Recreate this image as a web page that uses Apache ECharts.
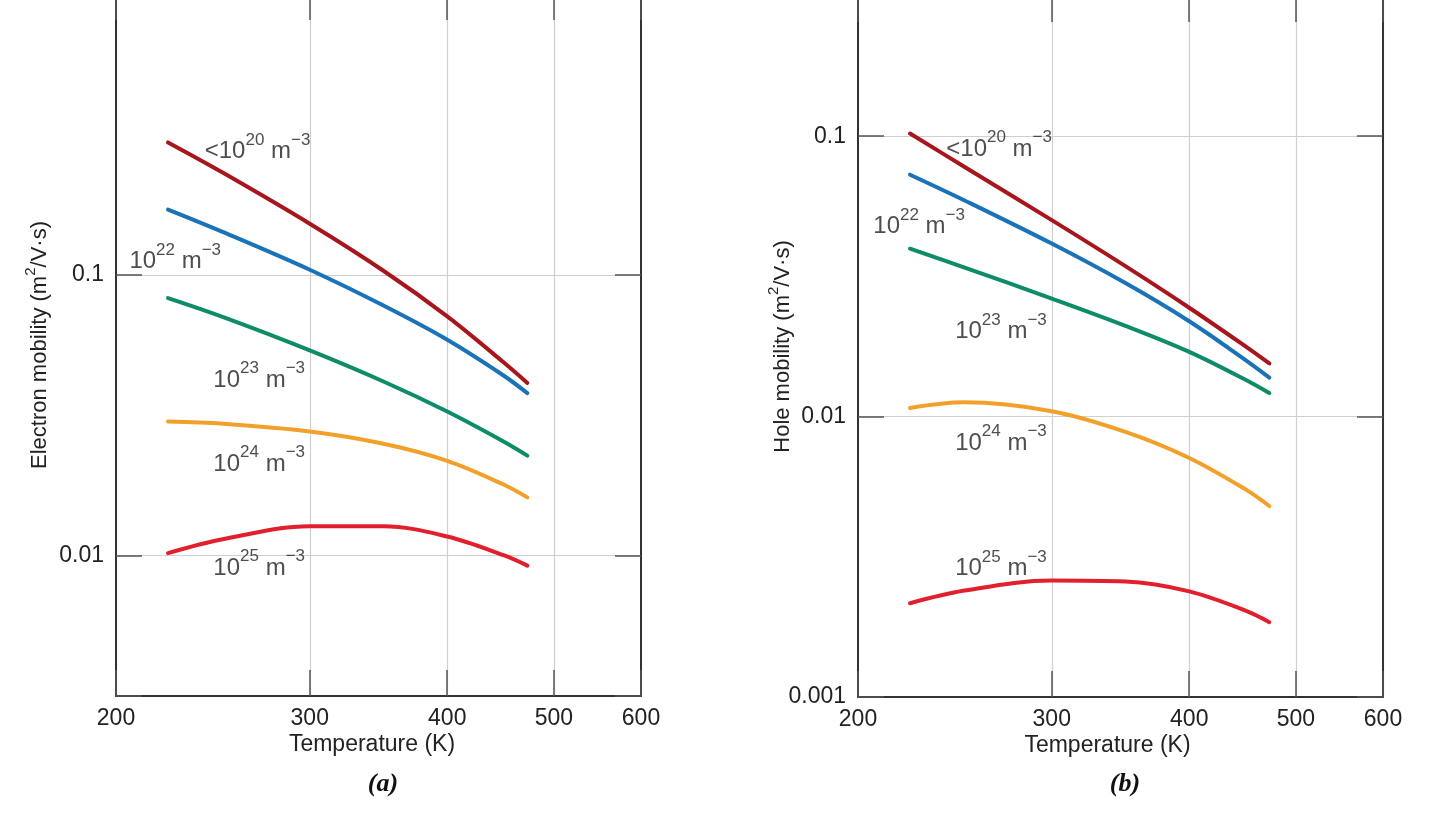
<!DOCTYPE html>
<html>
<head>
<meta charset="utf-8">
<title>Electron and hole mobility vs temperature</title>
<script src="https://cdn.jsdelivr.net/npm/echarts@6/dist/echarts.min.js"></script>
<style>
    html, body { margin: 0; padding: 0; background: #fff; }
    #chart { width: 1440px; height: 813px; }
</style>
</head>
<body>
<div id="chart"></div>
<script>
    // temperatures (K) at which the curves are read
    var temps = [223, 250, 300, 350, 400, 450, 473];

    // (a) electron mobility, m2/V.s
    var e20 = [0.296, 0.2312, 0.152, 0.1034, 0.0711, 0.0488, 0.0412];
    var e22 = [0.1706, 0.1421, 0.1042, 0.0777, 0.0587, 0.0438, 0.0379];
    var e23 = [0.0826, 0.0708, 0.0538, 0.0417, 0.0326, 0.0255, 0.0227];
    var e24 = [0.0300, 0.02948, 0.02766, 0.02502, 0.02175, 0.01791, 0.01612];
    var e25 = [0.0102, 0.01143, 0.01272, 0.01272, 0.01169, 0.01003, 0.00921];

    // (b) hole mobility, m2/V.s
    var h20 = [0.1022, 0.0777, 0.0502, 0.0344, 0.02445, 0.0178, 0.01547];
    var h22 = [0.0729, 0.0590, 0.0414, 0.02993, 0.02187, 0.0159, 0.01377];
    var h23 = [0.0397, 0.0340, 0.02636, 0.02107, 0.01702, 0.01353, 0.01213];
    var h24 = [0.01074, 0.01124, 0.01045, 0.00882, 0.00712, 0.00550, 0.00480];
    var h25 = [0.00216, 0.002396, 0.002601, 0.00258, 0.00238, 0.002032, 0.001849];

    // x tick labels (K)
    var xTicks = [200, 300, 400, 500, 600];

    // curve labels (rich text) and where they sit, in data units
    var curveNames = [
        '{t|<10}{s|20}{t| m}{s|\u22123}',
        '{t|10}{s|22}{t| m}{s|\u22123}',
        '{t|10}{s|23}{t| m}{s|\u22123}',
        '{t|10}{s|24}{t| m}{s|\u22123}',
        '{t|10}{s|25}{t| m}{s|\u22123}'
    ];
    var labelTa = [240.8, 205.7, 245.2, 245.2, 245.2];
    var labelMa = [0.2843, 0.1150, 0.0436, 0.0219, 0.00933];
    var labelTb = [240.6, 206.5, 245.1, 245.1, 245.1];
    var labelMb = [0.0929, 0.0493, 0.0208, 0.00832, 0.00296];

    var colors = ['#a6161c', '#1a72b9', '#0e8c67', '#f3a02b', '#e21f2c'];

    var FONT = 'Liberation Sans, Arial, sans-serif';
    var TEXT = '#222';

    var lg = function (v) { return Math.log10(v); };

    function yLabel(v) {
        var e = Math.log10(v);
        if (Math.abs(e - Math.round(e)) > 1e-6) return '';
        return String(+Math.pow(10, Math.round(e)).toPrecision(1));
    }

    function xAxes(gridIndex, pad) {
        var custom = xTicks.map(lg);
        return [
            {
                type: 'value', gridIndex: gridIndex, position: 'bottom',
                min: lg(200), max: lg(600),
                name: 'Temperature (K)', nameLocation: 'middle', nameGap: 37,
                nameMoveOverlap: false,
                nameTextStyle: {fontSize: 23, color: TEXT, fontFamily: FONT, padding: [0, pad, 0, 0]},
                axisLine: {show: true, onZero: false, lineStyle: {color: '#333', width: 2}},
                axisTick: {show: true, inside: true, length: 26, customValues: custom,
                    lineStyle: {color: '#555', width: 1.5}},
                axisLabel: {show: true, customValues: custom, margin: 11, fontSize: 23,
                    color: TEXT, fontFamily: FONT,
                    formatter: function (v) { return String(Math.round(Math.pow(10, v))); }},
                splitLine: {show: true, lineStyle: {color: '#cfcfcf', width: 1.2}}
            },
            {
                type: 'value', gridIndex: gridIndex, position: 'top',
                min: lg(200), max: lg(600),
                axisLine: {show: true, onZero: false, lineStyle: {color: '#333', width: 2}},
                axisTick: {show: true, inside: true, length: 26, customValues: custom,
                    lineStyle: {color: '#555', width: 1.5}},
                axisLabel: {show: false},
                splitLine: {show: false}
            }
        ];
    }

    function yAxes(gridIndex, min, max, name, gap) {
        return [
            {
                type: 'log', logBase: 10, gridIndex: gridIndex, position: 'left',
                min: min, max: max,
                name: name, nameLocation: 'middle', nameGap: gap,
                nameMoveOverlap: false,
                nameTextStyle: {
                    color: TEXT, fontFamily: FONT,
                    rich: {
                        n: {fontSize: 22, color: TEXT, fontFamily: FONT, lineHeight: 28, verticalAlign: 'bottom'},
                        s: {fontSize: 15, color: TEXT, fontFamily: FONT, lineHeight: 13, verticalAlign: 'top'}
                    }
                },
                axisLine: {show: true, onZero: false, lineStyle: {color: '#333', width: 2}},
                axisTick: {show: true, inside: true, length: 26, lineStyle: {color: '#555', width: 1.5}},
                axisLabel: {show: true, margin: 12, fontSize: 23, color: TEXT, fontFamily: FONT,
                    showMaxLabel: true, formatter: yLabel},
                splitLine: {show: true, lineStyle: {color: '#cfcfcf', width: 1.2}},
                minorTick: {show: false}
            },
            {
                type: 'log', logBase: 10, gridIndex: gridIndex, position: 'right',
                min: min, max: max,
                axisLine: {show: true, onZero: false, lineStyle: {color: '#333', width: 2}},
                axisTick: {show: true, inside: true, length: 26, lineStyle: {color: '#555', width: 1.5}},
                axisLabel: {show: false},
                splitLine: {show: false}
            }
        ];
    }

    function curve(vals, color, xi, yi) {
        return {
            type: 'line',
            xAxisIndex: xi, yAxisIndex: yi,
            data: temps.map(function (t, i) { return [lg(t), vals[i]]; }),
            smooth: 0.35,
            showSymbol: false,
            symbol: 'none',
            lineStyle: {color: color, width: 4, cap: 'round', join: 'round'},
            z: 3
        };
    }

    function labels(ts, ms, xi, yi) {
        return {
            type: 'scatter',
            xAxisIndex: xi, yAxisIndex: yi,
            symbolSize: 0,
            silent: true,
            data: ts.map(function (t, i) { return {name: curveNames[i], value: [lg(t), ms[i]]}; }),
            label: {
                show: true, position: 'right', distance: 0,
                formatter: function (p) { return p.name; },
                rich: {
                    t: {fontSize: 24, color: TEXT, fontFamily: FONT, lineHeight: 32, verticalAlign: 'bottom'},
                    s: {fontSize: 17, color: TEXT, fontFamily: FONT, lineHeight: 15, verticalAlign: 'top'}
                }
            },
            z: 4
        };
    }

    var chart = echarts.init(document.getElementById('chart'));

    var series = [];
    [e20, e22, e23, e24, e25].forEach(function (d, i) { series.push(curve(d, colors[i], 0, 0)); });
    [h20, h22, h23, h24, h25].forEach(function (d, i) { series.push(curve(d, colors[i], 2, 2)); });
    series.push(labels(labelTa, labelMa, 0, 0));
    series.push(labels(labelTb, labelMb, 2, 2));

    chart.setOption({
        animation: false,
        backgroundColor: '#fff',
        title: [
            {text: '(a)', left: 378, top: 766, textAlign: 'center',
                textStyle: {fontFamily: 'Liberation Serif, DejaVu Serif, serif', fontStyle: 'italic',
                    fontWeight: 'bold', fontSize: 26, color: '#111'}},
            {text: '(b)', left: 1120, top: 766, textAlign: 'center',
                textStyle: {fontFamily: 'Liberation Serif, DejaVu Serif, serif', fontStyle: 'italic',
                    fontWeight: 'bold', fontSize: 26, color: '#111'}}
        ],
        grid: [
            {left: 116, right: 799, top: -6, bottom: 117, containLabel: false, outerBoundsMode: 'none'},
            {left: 858, right: 57, top: -4, bottom: 116, containLabel: false, outerBoundsMode: 'none'}
        ],
        xAxis: xAxes(0, 13).concat(xAxes(1, 26)),
        yAxis: yAxes(0, Math.pow(10, -2.5), 1, '{n|Electron mobility (m}{s|2}{n|/V\u00b7s)}', 65)
            .concat(yAxes(1, 0.001, Math.pow(10, -0.5), '{n|Hole mobility (m}{s|2}{n|/V\u00b7s)}', 64)),
        series: series
    });
</script>
</body>
</html>
